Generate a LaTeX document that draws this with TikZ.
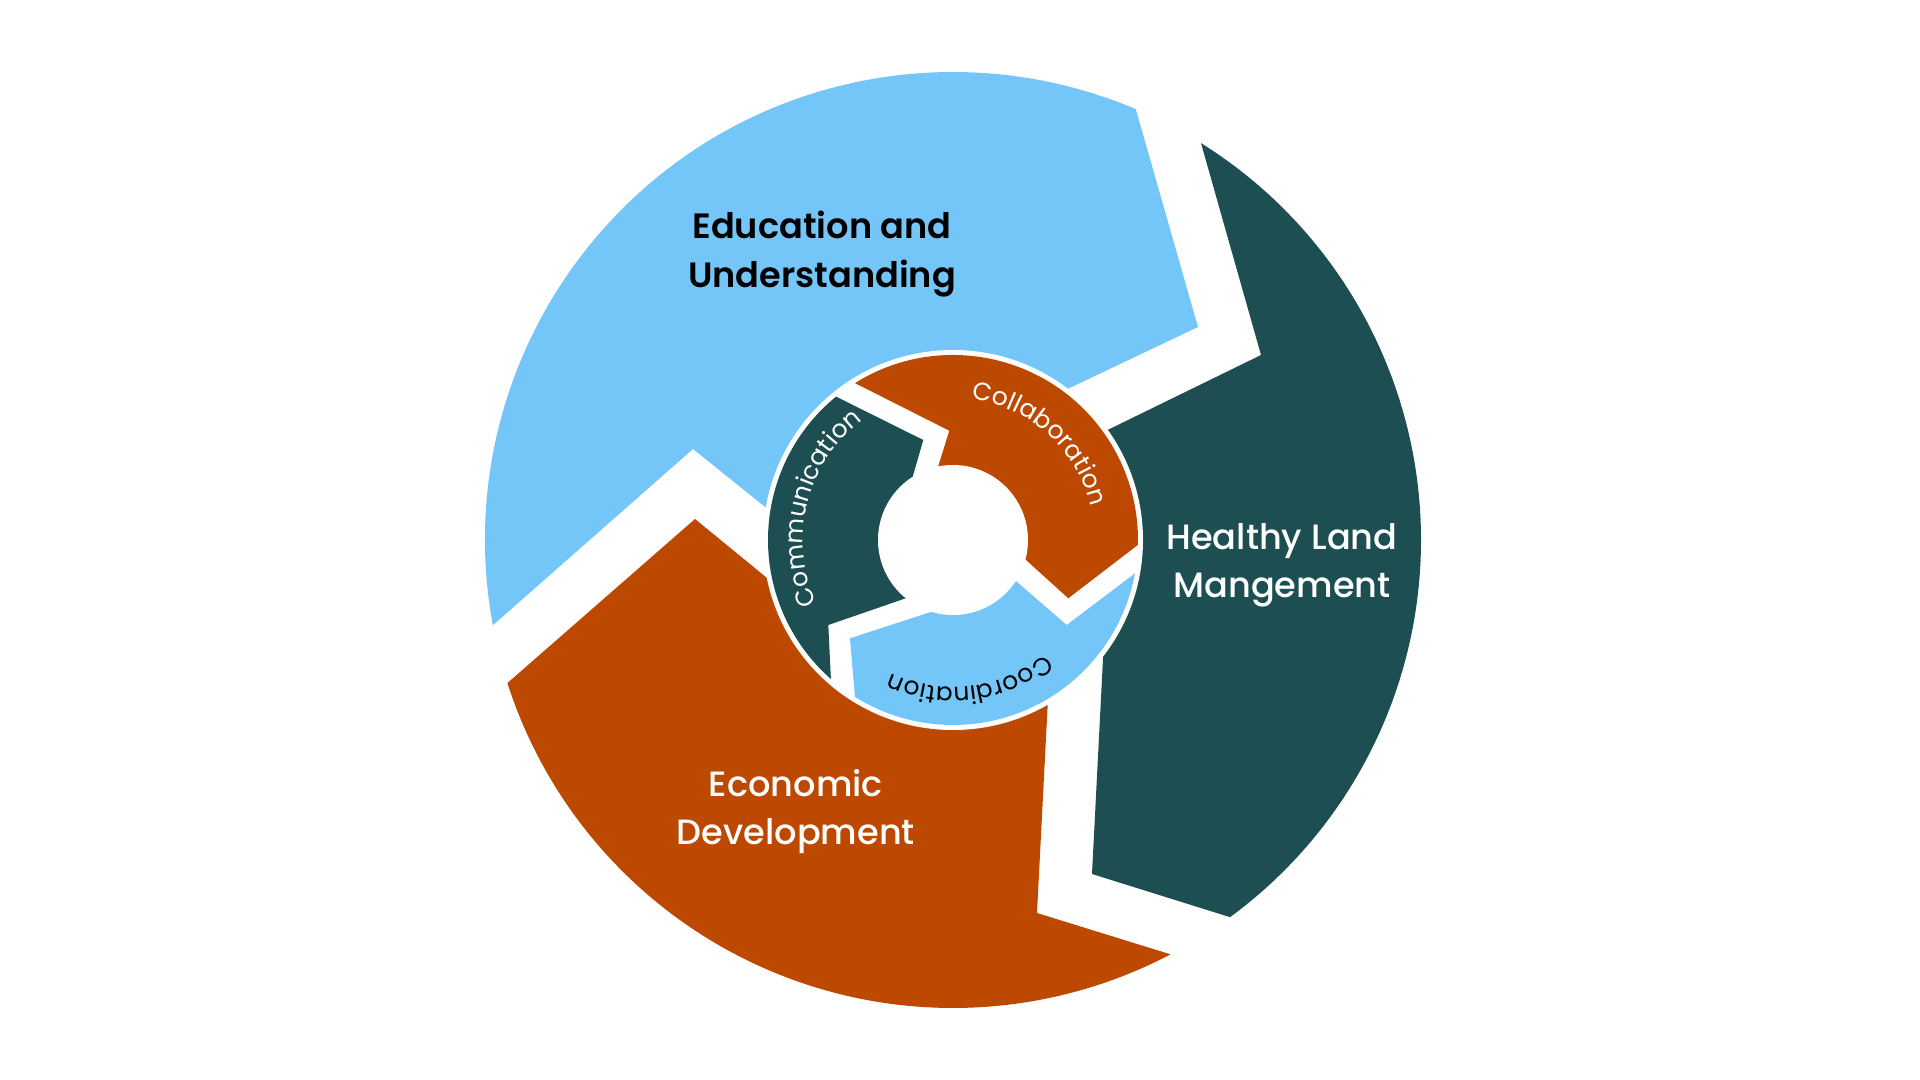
\documentclass[tikz,border=0pt]{standalone}
\usepackage{fontspec}
\setmainfont{Poppins}
\newfontfamily\labelfont{Poppins Medium}
\newfontfamily\labelboldfont{Poppins SemiBold}
\usetikzlibrary{decorations.text}

\definecolor{skyblue}{HTML}{73C6F7}
\definecolor{deepteal}{HTML}{1D4F52}
\definecolor{rust}{HTML}{BD4800}
\newcommand{\ringfont}{\fontsize{7.1}{8}\selectfont}

\begin{document}
\begin{tikzpicture}[
	outerlabel/.style={align=center, font=\labelfont\fontsize{10}{13.7}\selectfont},
	ringtext/.style={decorate, decoration={text along path, text align=center, text={#1}}}
	]
	
	% --- Frame (1920 x 1080)
	\useasboundingbox (-9.53,-5.40) rectangle (9.67,5.40);
	
	% --- Outer cycle: three chevron arcs, clockwise
	\def\Ro{4.68}
	\fill[skyblue] (190.5:\Ro) arc[start angle=190.5, end angle=67, radius=\Ro]
		-- (2.45,2.13) -- (0.64,1.27) -- (-1.43,-0.03) -- (-2.60,0.91) -- cycle;
	\fill[deepteal] (58:\Ro) arc[start angle=58, end angle=-53.7, radius=\Ro]
		-- (1.39,-3.34) -- (1.53,-0.60) -- (1.28,0.97) -- (3.08,1.85) -- cycle;
	\fill[rust] (197.8:\Ro) arc[start angle=197.8, end angle=297.7, radius=\Ro]
		-- (0.84,-3.73) -- (0.97,-1.20) -- (-1.42,-0.74) -- (-2.58,0.21) -- cycle;
	
	% --- Inner disk with white rim
	\fill[white] (0,0) circle (1.90);
	
	% --- Inner cycle
	\def\Ri{1.85}
	\fill[rust] (122:\Ri) arc[start angle=122, end angle=-1.5, radius=\Ri]
		-- (1.153,-0.583) -- (0.73,-0.20) -- (0,0) -- (-0.147,0.74) -- (-0.037,1.093) -- cycle;
	\fill[deepteal] (228.7:\Ri) arc[start angle=228.7, end angle=129.2, radius=\Ri]
		-- (-0.297,1.0) -- (-0.403,0.633) -- (0,0) -- (-0.473,-0.583) -- (-1.247,-0.85) -- cycle;
	\fill[skyblue] (238:\Ri) arc[start angle=238, end angle=349.6, radius=\Ri]
		-- (1.137,-0.85) -- (0.637,-0.417) -- (0,0) -- (-0.213,-0.717) -- (-1.03,-0.983) -- cycle;
	
	% hole in the middle
	\fill[white] (0,0) circle (0.75);
	
	% --- Curved labels of the inner cycle
	\path[ringtext={|\ringfont\color{white}|Collaboration}]
		(108:1.42) arc[start angle=108, end angle=-12, radius=1.42];
	\path[ringtext={|\ringfont\color{white}|Communication}]
		(226:1.50) arc[start angle=226, end angle=106, radius=1.50];
	\path[ringtext={|\ringfont\color{black}|Coordination}]
		(337:1.47) arc[start angle=337, end angle=217, radius=1.47];
	
	% --- Labels of the outer cycle
	\node[outerlabel, font=\labelboldfont\fontsize{10}{13.7}\selectfont, text=black] (edu) at (-1.31,2.86) {Education and\\Understanding};
	\node[outerlabel, text=white] (land) at (3.29,-0.25) {Healthy Land\\Mangement};
	\node[outerlabel, text=white] (econ) at (-1.57,-2.715) {Economic\\Development};
	
\end{tikzpicture}
\end{document}
